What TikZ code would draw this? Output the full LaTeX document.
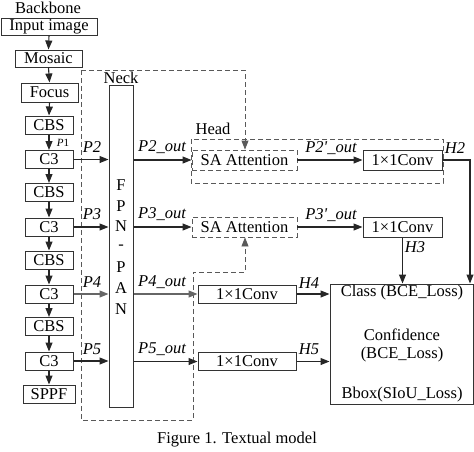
\documentclass[tikz,border=0pt]{standalone}
\usepackage{fontspec}
\setmainfont{Liberation Serif}
\usetikzlibrary{arrows.meta,calc}
\begin{document}
\begin{tikzpicture}[x=1pt,y=-1pt,
  every node/.style={font=\fontsize{16.5}{18}\selectfont, inner sep=0pt},
  box/.style={draw=black!80, line width=1pt, minimum height=18pt, minimum width=48pt},
  dbox/.style={draw=black!65, line width=0.9pt, dash pattern=on 5pt off 3pt, minimum height=20pt},
  arr/.style={draw=black!85, line width=1.1pt, -{Triangle[length=9pt,width=7pt]}},
  darr/.style={draw=black!65, line width=0.9pt, dash pattern=on 5pt off 3pt, -{Triangle[length=9pt,width=7pt]}},
  dline/.style={draw=black!65, line width=0.9pt, dash pattern=on 5pt off 3pt},
  lab/.style={font=\fontsize{16.5}{18}\selectfont\itshape},
  small/.style={font=\fontsize{11}{12}\selectfont\itshape}
]
\useasboundingbox (0,0) rectangle (474,451);

% Backbone
\node (bb) at (48,8) {Backbone};
\node[box, minimum width=96pt, minimum height=17pt] (inp) at (49,26.5) {Input image};
\node[box, minimum width=67pt, minimum height=17pt] (mos) at (48.5,58.5) {Mosaic};
\node[box, minimum width=57pt, minimum height=19pt] (foc) at (49.5,92.5) {Focus};
\node[box] (cbsa) at (49,125) {CBS};
\node[box] (cta) at (49,159.5) {C3};
\node[box] (cbsb) at (49,192.5) {CBS};
\node[box] (ctb) at (49,227) {C3};
\node[box] (cbsc) at (49,260) {CBS};
\node[box] (ctc) at (49,294) {C3};
\node[box] (cbsd) at (49,326.5) {CBS};
\node[box] (ctd) at (49,361) {C3};
\node[box, minimum width=52pt] (sppf) at (49,394) {SPPF};

\foreach \a/\b in {inp/mos,mos/foc,foc/cbsa,cbsa/cta,cta/cbsb,cbsb/ctb,ctb/cbsc,cbsc/ctc,ctc/cbsd,cbsd/ctd,ctd/sppf}
  \draw[arr] (\a.south) -- (\b.north);
\node[small] (pone) at (63,143) {P\textup{1}};

% Neck
\node[box, minimum width=24pt, minimum height=322pt] (fpn) at (121,246) {};
\node (neck) at (121,78) {Neck};
\foreach \t/\y [count=\i] in {F/185,P/206,N/226.5,-/247,P/267.5,A/288,N/309}
  \node (fl\i) at (121,\y) {\t};

% Head
\node (head) at (213,129) {Head};
\coordinate (hA) at (191,139);
\coordinate (hB) at (443,183);
\draw[dline] (hA) rectangle (hB);
\node[dbox, minimum width=105pt] (saa) at (244.5,160) {SA Attention};
\node[dbox, minimum width=105pt] (sab) at (244.5,227) {SA Attention};
\node[box, minimum width=79pt, minimum height=20pt] (cva) at (402.5,160) {1×1Conv};
\node[box, minimum width=79pt, minimum height=20pt] (cvb) at (402.5,227) {1×1Conv};
\node[box, minimum width=98pt, minimum height=18pt] (cvc) at (247,294) {1×1Conv};
\node[box, minimum width=98pt, minimum height=18pt] (cvd) at (247,361.5) {1×1Conv};
\node[box, minimum width=143pt, minimum height=120pt] (loss) at (401.5,344) {};
\node (lc) at (402,293) {Class (BCE\_Loss)};
\node (lf) at (402,335) {Confidence};
\node (lfb) at (402,355) {(BCE\_Loss)};
\node (lb) at (402,395) {Bbox(SIoU\_Loss)};

% neck dashed frame
\coordinate (nA) at (81,70);
\coordinate (nB) at (245,70);
\coordinate (nC) at (81,420);
\coordinate (nD) at (193,420);
\coordinate (nE) at (193,272);
\coordinate (nF) at (245,272);
\draw[darr] (nA) -- (nB) -- (nB |- saa.north);
\draw[darr] (nA) -- (nC) -- (nD) -- (nE) -- (nF) -- (nF |- sab.south);

% backbone -> neck
\draw[arr] (cta.east) -- (cta.east -| fpn.west);
\draw[arr] (ctb.east) -- (ctb.east -| fpn.west);
\draw[arr, draw=black!60] (ctc.east) -- (ctc.east -| fpn.west);
\draw[arr] (ctd.east) -- (ctd.east -| fpn.west);
\node[lab] (ptwo) at (92,147) {P2};
\node[lab] (pthree) at (92,214) {P3};
\node[lab] (pfour) at (92,282) {P4};
\node[lab] (pfive) at (92,349) {P5};

% neck -> head
\draw[arr] (fpn.east |- saa.west) -- (saa.west);
\draw[arr] (fpn.east |- sab.west) -- (sab.west);
\draw[arr, draw=black!60] (fpn.east |- cvc.west) -- (cvc.west);
\draw[arr] (fpn.east |- cvd.west) -- (cvd.west);
\node[lab] (ptwoo) at (162,147) {P2\_out};
\node[lab] (pthreeo) at (162,214) {P3\_out};
\node[lab] (pfouro) at (162,282) {P4\_out};
\node[lab] (pfiveo) at (162,349) {P5\_out};

\draw[arr] (saa.east) -- (cva.west);
\draw[arr] (sab.east) -- (cvb.west);
\node[lab] (ptwop) at (331,148) {P2\textquotesingle\_out};
\node[lab] (pthreep) at (331,215) {P3\textquotesingle\_out};

% head -> loss
\coordinate (hTwo) at (470,160);
\draw[arr] (cva.east) -- (hTwo) -- (hTwo |- loss.north);
\draw[arr] (cvb.south) -- (cvb.south |- loss.north);
\draw[arr] (cvc.east) -- (cvc.east -| loss.west);
\draw[arr] (cvd.east) -- (cvd.east -| loss.west);
\node[lab] (htwo) at (455,148) {H2};
\node[lab] (hthree) at (415,247) {H3};
\node[lab] (hfour) at (309,283) {H4};
\node[lab] (hfive) at (309,349) {H5};

\node (cap) at (237,440) {Figure 1. Textual model};
\end{tikzpicture}
\end{document}
